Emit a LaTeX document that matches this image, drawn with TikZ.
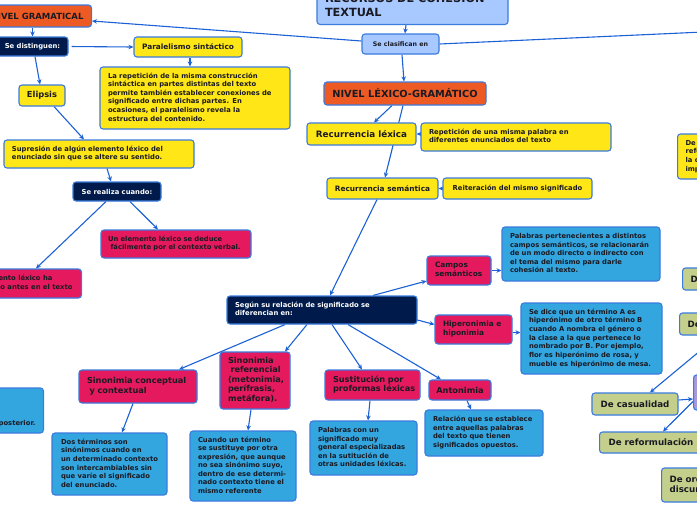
\documentclass[tikz,border=0pt]{standalone}
\usepackage{fontspec}
\setmainfont{DejaVu Sans}
\usetikzlibrary{arrows.meta}
\pgfdeclarelayer{back}
\pgfdeclarelayer{links}
\pgfsetlayers{back,links,main}
\definecolor{cOrange}{HTML}{EE5A24}
\definecolor{cNavy}{HTML}{001B4B}
\definecolor{cYellow}{HTML}{FFE617}
\definecolor{cPink}{HTML}{E5195E}
\definecolor{cBlue}{HTML}{33A6E0}
\definecolor{cLight}{HTML}{A8C9FF}
\definecolor{cGreen}{HTML}{C3CF8A}
\definecolor{cPurple}{HTML}{A898DC}
\definecolor{cBorder}{HTML}{3A7BDE}
\definecolor{cArrow}{HTML}{1C62D6}
\definecolor{cText}{HTML}{1A1A22}
\newcommand\fS{\fontsize{6.8}{8.55}\selectfont\bfseries}
\newcommand\fSS{\fontsize{6.3}{8}\selectfont\bfseries}
\newcommand\fP{\fontsize{7.4}{8.8}\selectfont\bfseries}
\newcommand\fM{\fontsize{8.2}{9.5}\selectfont\bfseries}
\newcommand\fL{\fontsize{8.8}{10}\selectfont\bfseries}
\newcommand\fNG{\fontsize{8.5}{10}\selectfont\bfseries}
\newcommand\fNL{\fontsize{9.8}{11}\selectfont\bfseries}
\newcommand\fT{\fontsize{11.3}{14}\selectfont\bfseries}
\newcommand\T[1]{\begin{tabular}{@{}l@{}}#1\end{tabular}}
\begin{document}
\begin{tikzpicture}[x=1pt,y=-1pt,
  box/.style={draw=cBorder, line width=1.1pt, rounded corners=3pt, inner ysep=0pt, inner xsep=2pt, text=cText, font=\fS},
  yel/.style={box, fill=cYellow},
  org/.style={box, fill=cOrange},
  nav/.style={box, fill=cNavy, text=white},
  pnk/.style={box, fill=cPink},
  blu/.style={box, fill=cBlue},
  lgt/.style={box, fill=cLight},
  grn/.style={box, fill=cGreen, font=\fontsize{8.7}{10}\selectfont\bfseries},
  pur/.style={box, fill=cPurple},
  arr/.style={draw=cArrow, line width=1.1pt, -{Stealth[length=5pt,width=4.5pt]}}]
\useasboundingbox (0,0) rectangle (697,520);
\begin{pgfonlayer}{back}
\fill[white] (0,0) rectangle (697,520);
\end{pgfonlayer}
\clip (0,0) rectangle (697,520);

% ---- top
\node[lgt, anchor=south, minimum width=191pt, text width=175pt, inner xsep=8pt, inner ysep=3.5pt, align=left, font=\fT] (recursos) at (412.5,25) {\T{RECURSOS DE COHESIÓN\\TEXTUAL}};
\node[lgt, minimum width=77pt, minimum height=20pt, font=\fSS] (seclas) at (400.5,44) {Se clasifican en};
\coordinate (offR) at (800,27.6);

% ---- left: nivel gramatical
\node[org, anchor=east, minimum height=22pt, inner xsep=8pt, font=\fNG] (ng) at (92,16) {NIVEL GRAMATICAL};
\node[nav, minimum width=71pt, minimum height=19pt] (sedist) at (32.5,46.5) {Se distinguen:};
\node[yel, minimum width=108pt, minimum height=20pt, font=\fP] (paral) at (188,47) {Paralelismo sintáctico};
\node[yel, minimum width=190pt, minimum height=62pt, text width=174pt, inner xsep=8pt, align=left] (parlong) at (195,98) {\T{La repetición de la misma construcción\\sintáctica en partes distintas del texto\\permite también establecer conexiones de\\significado entre dichas partes. En\\ocasiones, el paralelismo revela la\\estructura del contenido.}};
\node[yel, minimum width=46pt, minimum height=21pt, font=\fontsize{8.3}{10}\selectfont\bfseries] (elipsis) at (42,95.5) {Elipsis};
\node[yel, minimum width=190pt, minimum height=28pt, text width=174pt, inner xsep=8pt, align=left] (supresion) at (99,154) {\T{Supresión de algún elemento léxico del\\enunciado sin que se altere su sentido.}};
\node[nav, minimum width=88pt, minimum height=19pt] (serealiza) at (117,191.5) {Se realiza cuando:};
\node[pnk, minimum width=150pt, minimum height=28pt, text width=136pt, inner xsep=7pt, align=left] (unelem) at (176,244) {\T{Un elemento léxico se deduce\\\hspace{2.5pt}fácilmente por el contexto verbal.}};
\node[pnk, anchor=east, minimum height=29pt, inner xsep=9pt, align=left] (pinkleft) at (82,283.5) {\T{Un elemento léxico ha\\aparecido antes en el texto}};
\node[blu, anchor=east, minimum width=130pt, minimum height=45pt] (leftblue) at (44,410.5) {};
\node[font=\fS, text=cText, anchor=base west, inner sep=0pt] (lbtext) at (-1.5,425.5) {posterior.};

% ---- centre: nivel lexico-gramatico
\node[org, minimum width=162pt, minimum height=23pt, font=\fNL] (nlex) at (405,93.5) {NIVEL LÉXICO-GRAMÁTICO};
\node[yel, minimum width=109pt, minimum height=22pt, font=\fL] (reclex) at (361.5,134) {Recurrencia léxica};
\node[yel, minimum width=190pt, minimum height=28pt, text width=174pt, inner xsep=8pt, align=left] (repet) at (516,137) {\T{Repetición de una misma palabra en\\diferentes enunciados del texto}};
\node[yel, minimum width=111pt, minimum height=21pt, font=\fP] (recsem) at (382.5,188.5) {Recurrencia semántica};
\node[yel, minimum width=149pt, minimum height=21pt] (reiter) at (517.5,188.5) {Reiteración del mismo significado};
\node[nav, minimum width=190pt, minimum height=28pt, text width=174pt, inner xsep=8pt, align=left] (segun) at (322,310) {\T{Según su relación de significado se\\diferencian en:}};
\node[pnk, minimum width=64pt, minimum height=29pt, text width=48pt, inner xsep=8pt, align=left, font=\fP] (campos) at (459,270.5) {\T{Campos\\semánticos}};
\node[blu, minimum width=158pt, minimum height=54pt, text width=142pt, inner xsep=8pt, align=left] (palabpert) at (581,254) {\T{Palabras pertenecientes a distintos\\campos semánticos, se relacionarán\\de un modo directo o indirecto con\\el tema del mismo para darle\\cohesión al texto.}};
\node[pnk, minimum width=77pt, minimum height=29pt, text width=61pt, inner xsep=8pt, align=left, font=\fP] (hiper) at (473.5,329.5) {\T{Hiperonimia e\\hiponimia}};
\node[blu, minimum width=141pt, minimum height=71pt, text width=125pt, inner xsep=8pt, align=left, font=\fontsize{6.8}{8.7}\selectfont\bfseries] (sedice) at (591.5,338.5) {\T{Se dice que un término A es\\hiperónimo de otro término B\\cuando A nombra el género o\\la clase a la que pertenece lo\\nombrado por B. Por ejemplo,\\flor es hiperónimo de rosa, y\\mueble es hiperónimo de mesa.}};
\node[pnk, minimum width=118pt, minimum height=33pt, text width=102pt, inner xsep=8pt, align=left, font=\fM] (sinconc) at (138,386.5) {\T{Sinonimia conceptual\\\hspace{2.5pt}y contextual}};
\node[pnk, minimum width=70pt, minimum height=57pt, text width=54pt, inner xsep=8pt, align=left, font=\fM] (sinref) at (255,380.5) {\T{Sinonimia\\\hspace{2.5pt}referencial\\(metonimia,\\perífrasis,\\metáfora).}};
\node[pnk, minimum width=95pt, minimum height=30pt, text width=79pt, inner xsep=8pt, align=left, font=\fM] (sust) at (372.5,385) {\T{Sustitución por\\proformas léxicas}};
\node[pnk, minimum width=62pt, minimum height=20pt, font=\fM] (anton) at (460,390) {Antonimia};
\node[blu, minimum width=115pt, minimum height=62pt, text width=97pt, inner xsep=9pt, align=left, font=\fontsize{6.8}{8.6}\selectfont\bfseries] (dost) at (109.5,464) {\T{Dos términos son\\sinónimos cuando en\\un determinado contexto\\son intercambiables sin\\que varíe el significado\\del enunciado.}};
\node[blu, minimum width=106pt, minimum height=70pt, text width=90pt, inner xsep=8pt, align=left, font=\fontsize{6.8}{8.5}\selectfont\bfseries] (cuando) at (243,466) {\T{Cuando un término\\se sustituye por otra\\expresión, que aunque\\no sea sinónimo suyo,\\dentro de ese determi-\\nado contexto tiene el\\mismo referente}};
\node[blu, minimum width=107pt, minimum height=54pt, text width=91pt, inner xsep=8pt, align=left] (palcon) at (363.5,448) {\T{Palabras con un\\significado muy\\general especializadas\\en la sutitución de\\otras unidades léxicas.}};
\node[blu, minimum width=118pt, minimum height=46pt, text width=102pt, inner xsep=8pt, align=left] (relac) at (484,433) {\T{Relación que se establece\\entre aquellas palabras\\del texto que tienen\\significados opuestos.}};

% ---- right edge
\node[yel, anchor=west, minimum height=45pt, inner xsep=8pt, align=left] (ryel) at (677,156.5) {\T{De referencia: mecanismos\\referenciales que aseguran\\la continuidad del texto\\importante}};
\node[grn, anchor=west, minimum height=22pt, inner xsep=8pt] (grn1) at (682,279) {De adición};
\node[grn, anchor=west, minimum height=22pt, inner xsep=8pt] (grn2) at (679,324) {De contraste};
\node[grn, minimum width=86pt, minimum height=22pt] (casual) at (635,404) {De casualidad};
\node[pur, anchor=west, minimum width=60pt, minimum height=35pt] (purple) at (693,392.5) {};
\node[grn, anchor=west, minimum height=21pt, inner xsep=9pt] (reform) at (599,442.5) {De reformulación};
\node[grn, anchor=west, minimum height=34pt, inner xsep=8pt, align=left] (orden) at (661,485) {\T{De orden del\\discurso}};
\coordinate (hubR) at (730,326);

% ---- connectors
\begin{pgfonlayer}{links}
\draw[arr] ([yshift=3pt]seclas.west) -- ([yshift=-5pt]ng.east);
\draw[arr] (seclas.east) -- (offR);
\draw[arr] ([xshift=-6.5pt]recursos.south) -- ([xshift=4.5pt]seclas.north);
\draw[arr] ([xshift=1.5pt]seclas.south) -- ([xshift=-1pt]nlex.north);
\draw[arr] (sedist.north |- ng.south) -- (sedist.north);
\draw[arr, shorten <=3pt] (sedist.east) -- (paral.west);
\draw[arr] ([xshift=2pt]paral.south) -- ([xshift=2pt]paral.south |- parlong.north);
\draw[arr] ([xshift=2.5pt]sedist.south) -- ([xshift=-2pt]elipsis.north);
\draw[arr] ([xshift=12pt]elipsis.south) -- ([xshift=-15pt]supresion.north);
\draw[arr] ([xshift=8pt]supresion.south) -- ([xshift=-6pt]serealiza.north);
\draw[arr] ([xshift=-11pt]serealiza.south) -- ([xshift=-46pt]pinkleft.north east);
\draw[arr] ([xshift=13pt]serealiza.south) -- ([xshift=-18pt]unelem.north);
\draw[arr] ([xshift=-13pt]nlex.south) -- ([xshift=12.5pt]reclex.north);
\draw[arr] ([xshift=-2pt]nlex.south) -- ([xshift=2.5pt]recsem.north);
\draw[arr] (repet.west |- reclex.east) -- (reclex.east);
\draw[arr] (reiter.west) -- (recsem.east);
\draw[arr] ([xshift=-5.5pt]recsem.south) -- ([xshift=8pt]segun.north);
\draw[arr] ([xshift=51pt]segun.north) -- ([yshift=-10.5pt]campos.west);
\draw[arr] (campos.east) -- (campos.east -| palabpert.west);
\draw[arr] ([yshift=-10pt]segun.east) -- ([yshift=5pt]hiper.west);
\draw[arr] ([yshift=-3pt]hiper.east) -- ([yshift=-3pt]hiper.east -| sedice.west);
\draw[arr] ([xshift=-37pt]segun.south) -- ([xshift=41pt]sinconc.north);
\draw[arr] ([xshift=-15pt]segun.south) -- ([xshift=30pt]sinref.north);
\draw[arr] ([xshift=10pt]segun.south) -- ([xshift=-10.5pt]sust.north);
\draw[arr] ([xshift=26pt]segun.south) -- ([xshift=-19pt]anton.north);
\draw[arr] ([xshift=-5pt]sinconc.south) -- ([xshift=12.5pt]dost.north);
\draw[arr] ([xshift=-4pt]sinref.south) -- ([xshift=5pt]cuando.north);
\draw[arr] ([xshift=-2.5pt]sust.south) -- ([xshift=4.5pt]palcon.north);
\draw[arr] ([xshift=7pt]anton.south) -- ([xshift=-13pt]relac.north);
\draw[arr] (hubR) -- ([xshift=15pt]casual.north);
\draw[arr] ([yshift=4pt]casual.east) -- ([yshift=-6.5pt]purple.west);
\draw[arr] ([yshift=-9pt]purple.west) -- ([xshift=64pt]reform.north west);
\end{pgfonlayer}
\end{tikzpicture}
\end{document}
